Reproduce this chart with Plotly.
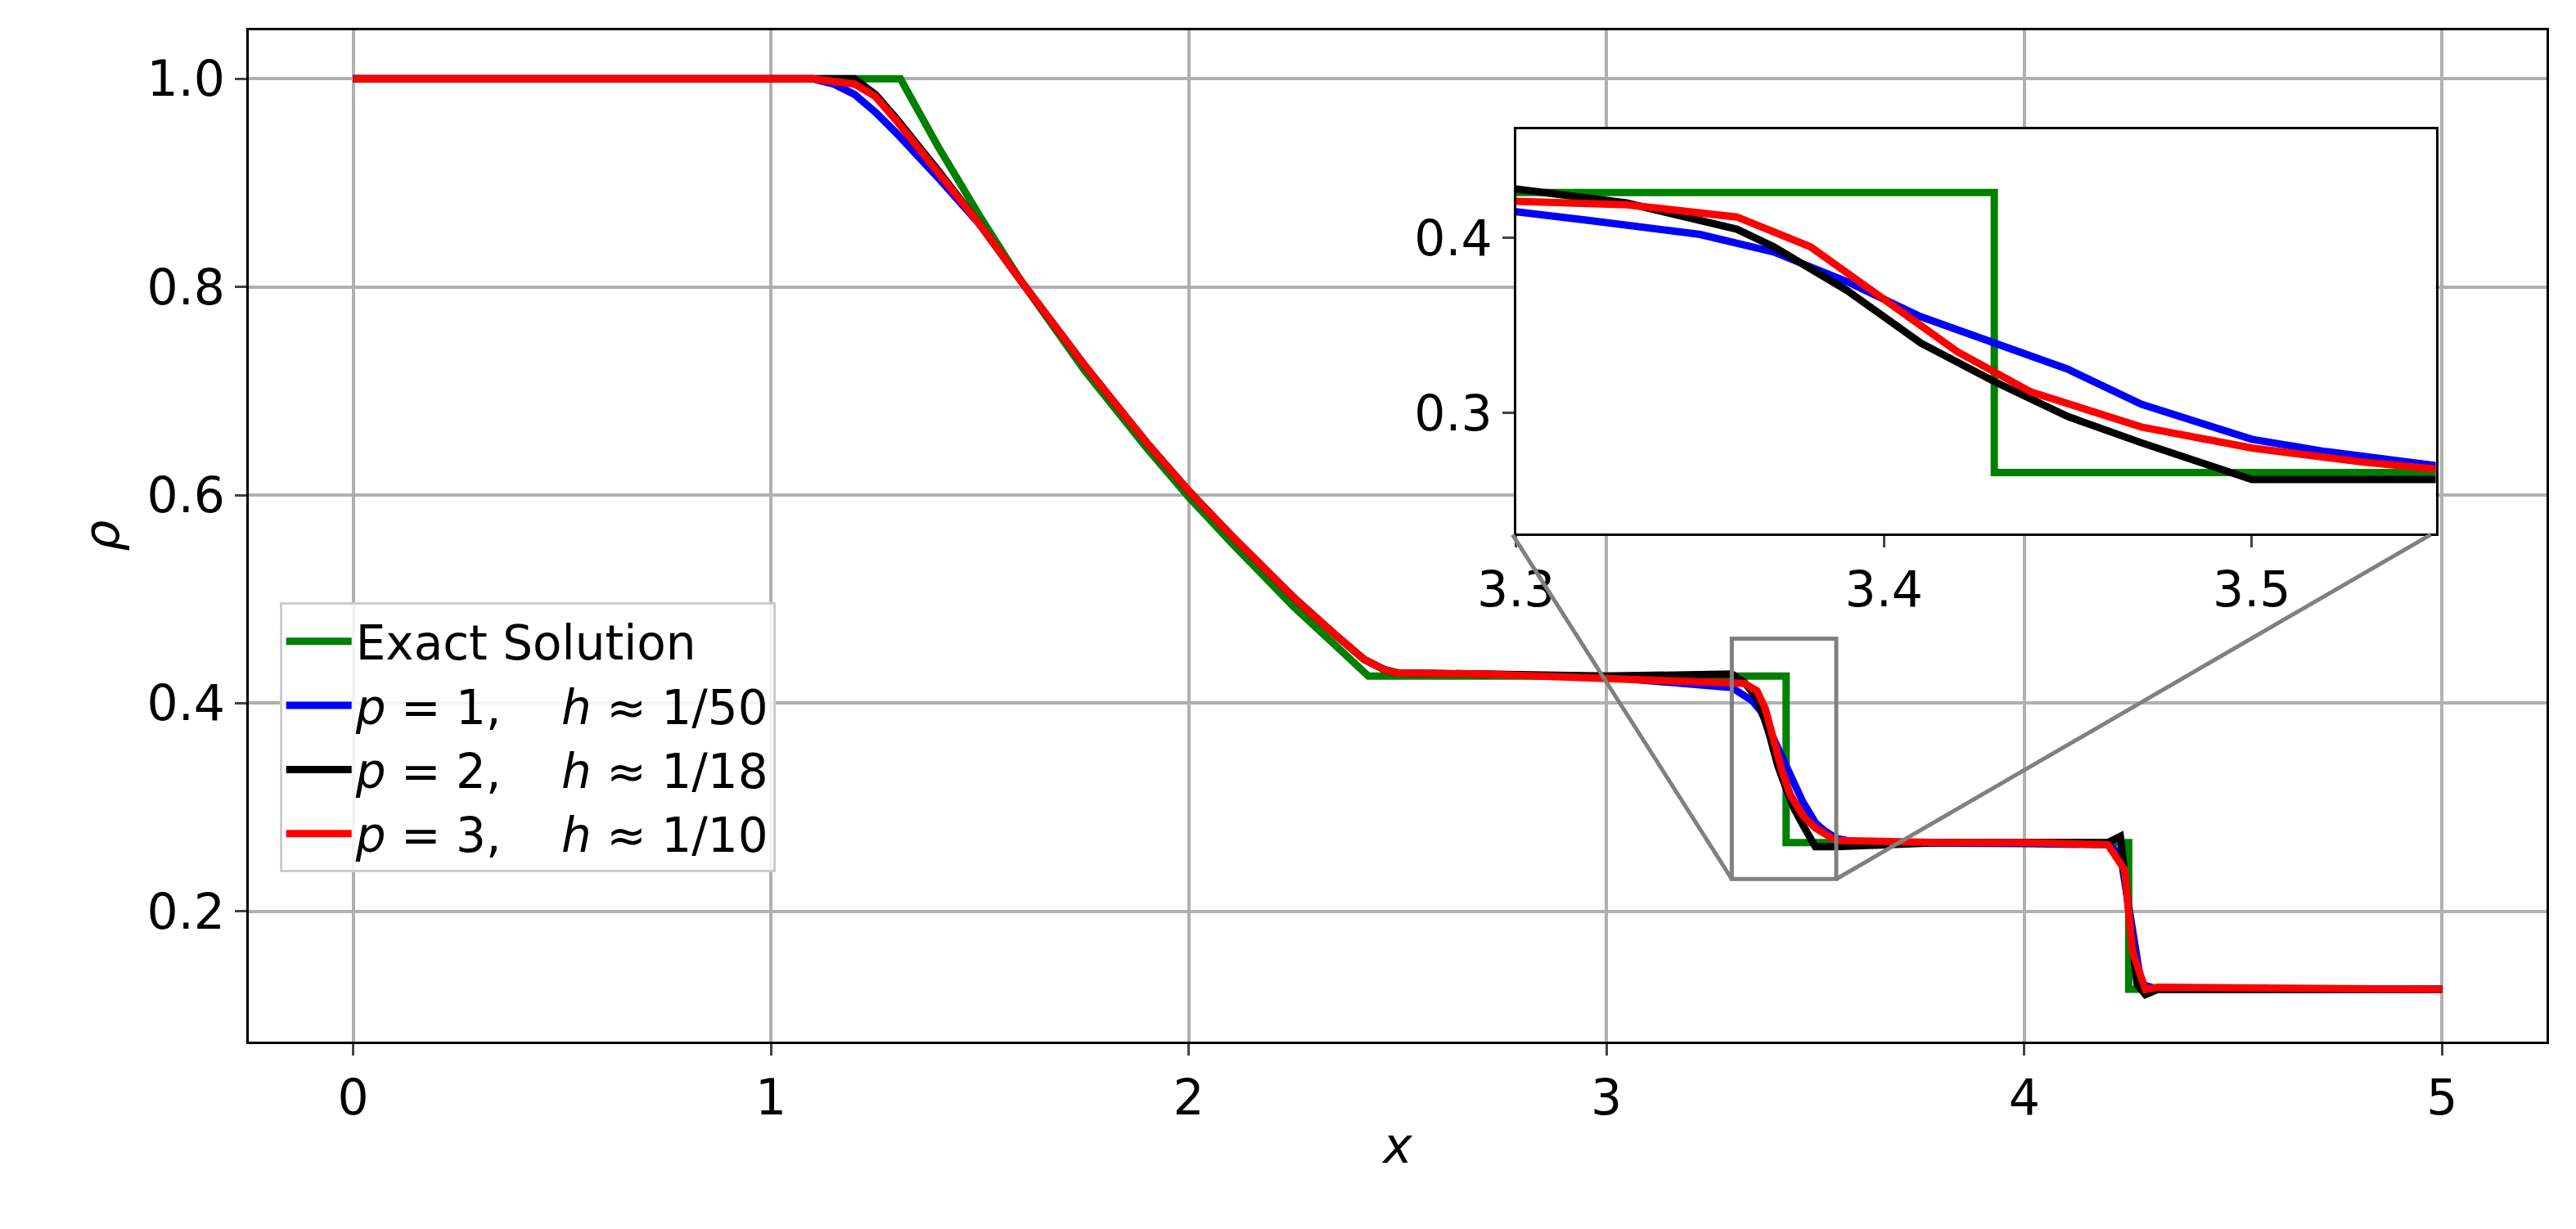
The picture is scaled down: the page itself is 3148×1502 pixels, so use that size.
import plotly.graph_objects as go

# exact solution
x_exact = [0.0, 1.31, 1.4, 1.5, 1.6, 1.75, 1.9, 2.0, 2.1, 2.25, 2.35, 2.43, 3.43, 3.43, 4.25, 4.25, 5.0]
r_exact = [1.0, 1.0, 0.935, 0.868, 0.805, 0.72, 0.645, 0.598, 0.555, 0.493, 0.456, 0.426, 0.426, 0.266, 0.266, 0.125, 0.125]

# p=1, h~1/50
x_p1 = [0.0, 1.1, 1.15, 1.2, 1.25, 1.3, 1.4, 1.5, 1.6, 1.75, 1.9, 2.0, 2.1, 2.25, 2.35, 2.42, 2.47, 2.5, 2.7, 3.0, 3.3, 3.32, 3.35, 3.37, 3.39, 3.41, 3.43, 3.45, 3.47, 3.49, 3.5, 3.52, 3.55, 3.6, 3.8, 4.0, 4.2, 4.23, 4.26, 4.28, 4.32, 5.0]
r_p1 = [1.0, 1.0, 0.995, 0.985, 0.968, 0.948, 0.905, 0.86, 0.805, 0.725, 0.65, 0.604, 0.562, 0.502, 0.466, 0.442, 0.432, 0.429, 0.428, 0.425, 0.415, 0.41, 0.402, 0.392, 0.375, 0.355, 0.34, 0.325, 0.305, 0.292, 0.285, 0.278, 0.27, 0.266, 0.266, 0.265, 0.264, 0.255, 0.18, 0.13, 0.125, 0.125]

# p=2, h~1/18
x_p2 = [0.0, 1.1, 1.2, 1.25, 1.3, 1.4, 1.5, 1.6, 1.75, 1.9, 2.0, 2.1, 2.25, 2.35, 2.42, 2.47, 2.5, 2.7, 3.0, 3.3, 3.33, 3.36, 3.37, 3.39, 3.41, 3.43, 3.45, 3.47, 3.5, 3.55, 3.8, 4.0, 4.2, 4.23, 4.25, 4.27, 4.29, 4.32, 5.0]
r_p2 = [1.0, 1.0, 1.0, 0.985, 0.962, 0.912, 0.86, 0.805, 0.725, 0.65, 0.604, 0.562, 0.502, 0.466, 0.442, 0.432, 0.429, 0.428, 0.426, 0.428, 0.42, 0.405, 0.395, 0.37, 0.34, 0.318, 0.298, 0.283, 0.262, 0.262, 0.266, 0.266, 0.266, 0.272, 0.2, 0.13, 0.12, 0.125, 0.125]

# p=3, h~1/10
x_p3 = [0.0, 1.1, 1.2, 1.25, 1.3, 1.4, 1.5, 1.6, 1.75, 1.9, 2.0, 2.1, 2.25, 2.35, 2.42, 2.47, 2.5, 2.7, 3.0, 3.3, 3.33, 3.36, 3.38, 3.40, 3.42, 3.44, 3.47, 3.5, 3.53, 3.55, 3.8, 4.0, 4.2, 4.24, 4.26, 4.29, 4.32, 5.0]
r_p3 = [1.0, 1.0, 0.995, 0.983, 0.96, 0.91, 0.86, 0.805, 0.725, 0.65, 0.604, 0.562, 0.502, 0.466, 0.442, 0.432, 0.429, 0.428, 0.424, 0.421, 0.419, 0.412, 0.395, 0.365, 0.335, 0.312, 0.292, 0.28, 0.272, 0.268, 0.266, 0.266, 0.264, 0.24, 0.16, 0.125, 0.127, 0.125]

series = [
    ('Exact Solution', x_exact, r_exact, 'green'),
    ('<i>p</i> = 1,    <i>h</i> ≈ 1/50', x_p1, r_p1, 'blue'),
    ('<i>p</i> = 2,    <i>h</i> ≈ 1/18', x_p2, r_p2, 'black'),
    ('<i>p</i> = 3,    <i>h</i> ≈ 1/10', x_p3, r_p3, 'red'),
]

fig = go.Figure()
for name, xs, ys, col in series:
    fig.add_trace(go.Scatter(x=xs, y=ys, mode='lines', name=name,
                             line={'color': col, 'width': 9}))
for name, xs, ys, col in series:
    fig.add_trace(go.Scatter(x=xs, y=ys, mode='lines', showlegend=False,
                             xaxis='x2', yaxis='y2',
                             line={'color': col, 'width': 9}))

axis_common = dict(showline=True, linecolor='black', linewidth=3, mirror=True,
                   ticks='outside', ticklen=14, tickwidth=3, zeroline=False,
                   automargin=False, tickfont={'size': 60, 'color': 'black'})

fig.update_layout(
    width=3148, height=1502,
    paper_bgcolor='white', plot_bgcolor='white',
    font={'family': 'DejaVu Sans', 'color': 'black'},
    margin={'l': 0, 'r': 0, 't': 0, 'b': 0},
    xaxis=dict(axis_common, domain=[0.094, 0.986], range=[-0.25, 5.25],
               tickvals=[0, 1, 2, 3, 4, 5], showgrid=True, gridcolor='#b0b0b0', gridwidth=4,
               title={'text': '<i>x</i>', 'font': {'size': 60}, 'standoff': 5}),
    yaxis=dict(axis_common, domain=[0.158, 0.981], range=[0.075, 1.047],
               tickvals=[0.2, 0.4, 0.6, 0.8, 1.0], ticktext=['0.2', '0.4', '0.6', '0.8', '1.0'],
               showgrid=True, gridcolor='#b0b0b0', gridwidth=4,
               title={'text': '<i>ρ</i>', 'font': {'size': 60}, 'standoff': 15}),
    xaxis2=dict(axis_common, domain=[0.586, 0.943], range=[3.3, 3.55], anchor='y2',
                tickvals=[3.3, 3.4, 3.5], showgrid=False),
    yaxis2=dict(axis_common, domain=[0.571, 0.900], range=[0.231, 0.462], anchor='x2',
                tickvals=[0.3, 0.4], showgrid=False),
    legend=dict(x=0.106, y=0.515, xanchor='left', yanchor='top',
                bgcolor='rgba(255,255,255,0.85)', bordercolor='#cccccc', borderwidth=3,
                font={'size': 58}, itemwidth=80, tracegroupgap=0),
    shapes=[
        dict(type='rect', xref='x', yref='y', x0=3.3, x1=3.55, y0=0.231, y1=0.462,
             line={'color': 'gray', 'width': 5}),
        dict(type='line', xref='x', yref='y', x0=3.3, y0=0.231, x1=2.775, y1=0.562,
             line={'color': 'gray', 'width': 5}),
        dict(type='line', xref='x', yref='y', x0=3.55, y0=0.231, x1=4.973, y1=0.562,
             line={'color': 'gray', 'width': 5}),
    ],
)

fig.write_html('out.html')
